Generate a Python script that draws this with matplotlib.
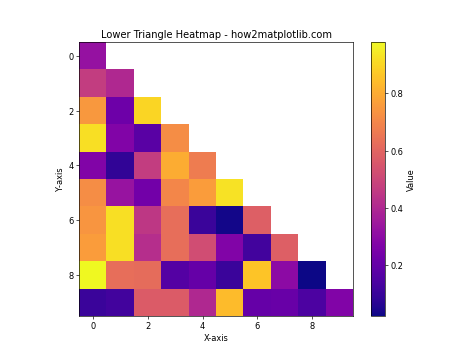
import numpy as np
import matplotlib
matplotlib.use("Agg")
import matplotlib.pyplot as plt

row0 = [0.32]
row1 = [0.47, 0.40]
row2 = [0.75, 0.22, 0.90]
row3 = [0.92, 0.27, 0.17, 0.72]
row4 = [0.27, 0.08, 0.47, 0.80, 0.67]
row5 = [0.72, 0.33, 0.23, 0.70, 0.76, 0.93]
row6 = [0.74, 0.92, 0.45, 0.63, 0.10, 0.03, 0.58]
row7 = [0.76, 0.92, 0.42, 0.63, 0.52, 0.27, 0.12, 0.58]
row8 = [0.98, 0.63, 0.62, 0.16, 0.20, 0.10, 0.86, 0.30, 0.02]
row9 = [0.10, 0.12, 0.57, 0.57, 0.40, 0.84, 0.20, 0.21, 0.14, 0.27]
rows = [row0, row1, row2, row3, row4, row5, row6, row7, row8, row9]

n = len(rows)
data = np.full((n, n), np.nan)
for i, r in enumerate(rows):
    data[i, :len(r)] = r
masked = np.ma.masked_invalid(data)

fig = plt.figure(figsize=(8, 6), dpi=59.25)
ax = fig.add_subplot(111)
im = ax.imshow(masked, cmap='plasma')
cbar = fig.colorbar(im, ax=ax)
cbar.set_label('Value')
ax.set_title('Lower Triangle Heatmap - how2matplotlib.com')
ax.set_xlabel('X-axis')
ax.set_ylabel('Y-axis')
fig.savefig('out.png', dpi=59.25)
